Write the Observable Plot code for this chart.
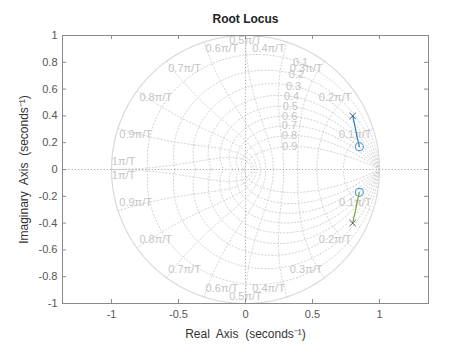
<!DOCTYPE html>
<html><head><meta charset="utf-8">
<script src="https://cdn.jsdelivr.net/npm/d3@7"></script>
<script src="https://cdn.jsdelivr.net/npm/@observablehq/plot@0.6"></script>
<style>body{margin:0;background:#fff}</style>
</head><body><div id="chart"></div>
<script>
const title = "Root Locus";
const xLabel = "Real  Axis  (seconds⁻¹)";
const yLabel = "Imaginary  Axis  (seconds⁻¹)";
const xTicks = [-1, -0.5, 0, 0.5, 1];
const yTicks = [-1, -0.8, -0.6, -0.4, -0.2, 0, 0.2, 0.4, 0.6, 0.8, 1];

// z-grid specification
const zetaValues = [0.1, 0.2, 0.3, 0.4, 0.5, 0.6, 0.7, 0.8, 0.9];
const wnValues = [0.1, 0.2, 0.3, 0.4, 0.5, 0.6, 0.7, 0.8, 0.9, 1];       // × π/T
const wnLabelText = ["0.1π/T","0.2π/T","0.3π/T","0.4π/T","0.5π/T","0.6π/T","0.7π/T","0.8π/T","0.9π/T","1π/T"];
const wnLabelRe = [0.819, 0.669, 0.453, 0.172, 0, -0.176, -0.455, -0.67, -0.82, -0.91];
const wnLabelIm = [0.253, 0.532, 0.75, 0.897, 0.953, 0.897, 0.75, 0.532, 0.253, 0.05];
const zetaLabelWn = 0.35; // where along each ζ curve its label sits (× π/T)

// root locus data
const poleRe = [0.8, 0.8];
const poleIm = [0.4, -0.4];
const zeroRe = [0.85, 0.85];
const zeroIm = [0.17, -0.17];
const branch1Re = [0.8, 0.811, 0.822, 0.832, 0.841, 0.85];
const branch1Im = [0.4, 0.35, 0.3, 0.25, 0.21, 0.17];
const branch2Re = [0.85, 0.841, 0.832, 0.822, 0.811, 0.8];
const branch2Im = [-0.17, -0.21, -0.25, -0.3, -0.35, -0.4];

const N = 120;
const gridPts = [];
zetaValues.forEach((zeta, k) => {
  const m = zeta / Math.sqrt(1 - zeta * zeta);
  for (const sgn of [1, -1]) {
    for (let i = 0; i <= N; i++) {
      const th = Math.PI * i / N;
      const r = Math.exp(-m * th);
      gridPts.push({x: r * Math.cos(th), y: sgn * r * Math.sin(th), g: "z" + k + sgn});
    }
  }
});
wnValues.forEach((wn, k) => {
  const a = wn * Math.PI;
  for (const sgn of [1, -1]) {
    for (let i = 0; i <= N; i++) {
      const zeta = i / N;
      const r = Math.exp(-zeta * a);
      const th = a * Math.sqrt(1 - zeta * zeta);
      gridPts.push({x: r * Math.cos(th), y: sgn * r * Math.sin(th), g: "w" + k + sgn});
    }
  }
});
const circle = d3.range(0, 361, 2).map(t => ({x: Math.cos(t * Math.PI / 180), y: Math.sin(t * Math.PI / 180)}));

const zetaLabels = zetaValues.map(zeta => {
  const a = zetaLabelWn * Math.PI;
  const r = Math.exp(-zeta * a), th = a * Math.sqrt(1 - zeta * zeta);
  return {x: r * Math.cos(th), y: r * Math.sin(th), t: String(zeta)};
});
const wnLabels = [];
wnLabelText.forEach((t, i) => {
  wnLabels.push({x: wnLabelRe[i], y: wnLabelIm[i], t});
  wnLabels.push({x: wnLabelRe[i], y: -wnLabelIm[i], t});
});
const b1 = branch1Re.map((x, i) => ({x, y: branch1Im[i]}));
const b2 = branch2Re.map((x, i) => ({x, y: branch2Im[i]}));
const poles = poleRe.map((x, i) => ({x, y: poleIm[i], c: i === 0 ? "#2a5d8f" : "#3f6070"}));
const zeros = zeroRe.map((x, i) => ({x, y: zeroIm[i]}));

const W = 474, H = 355, mL = 62, mR = 46, mT = 35, mB = 52;
const plotH = H - mT - mB, plotW = W - mL - mR;
const tick = 4;
const gridColor = "#d2d2d2";
const labelColor = "#c4c4c4";
const axisColor = "#8a8a8a";
const font = "'Liberation Sans', Arial, Helvetica, sans-serif";
const fmt = d => String(d);

const chart = Plot.plot({
  width: W, height: H,
  marginLeft: mL, marginRight: mR, marginTop: mT, marginBottom: mB,
  x: {domain: [-1.366, 1.366]},
  y: {domain: [-1, 1]},
  style: {fontFamily: font, fontSize: "11px", color: "#555", background: "#fff"},
  marks: [
    Plot.line(gridPts, {x: "x", y: "y", z: "g", stroke: gridColor, strokeWidth: 1, strokeDasharray: "1.2,2.2"}),
    Plot.line(circle, {x: "x", y: "y", stroke: "#dadada", strokeWidth: 1.2}),
    Plot.ruleX([0], {stroke: "#aaa", strokeDasharray: "1.2,2"}),
    Plot.ruleY([0], {stroke: "#aaa", strokeDasharray: "1.2,2"}),
    Plot.text(wnLabels, {x: "x", y: "y", text: "t", fill: labelColor, fontSize: 11, dy: -1}),
    Plot.text(zetaLabels, {x: "x", y: "y", text: "t", fill: labelColor, fontSize: 11}),
    Plot.line(b1, {x: "x", y: "y", stroke: "#2b7bba", strokeWidth: 1.2, curve: "catmull-rom"}),
    Plot.line(b2, {x: "x", y: "y", stroke: "#7aa83a", strokeWidth: 1.2, curve: "catmull-rom"}),
    Plot.dot(poles, {x: "x", y: "y", symbol: "times", r: 3, stroke: "c", strokeWidth: 1}),
    Plot.dot(zeros, {x: "x", y: "y", symbol: "circle", r: 4, stroke: "#5aa2d6", fill: "none", strokeWidth: 1.2}),
    Plot.frame({stroke: axisColor}),
    Plot.ruleX(xTicks, {x: d => d, insetTop: plotH - tick, stroke: axisColor}),
    Plot.ruleX(xTicks, {x: d => d, insetBottom: plotH - tick, stroke: axisColor}),
    Plot.ruleY(yTicks, {y: d => d, insetRight: plotW - tick, stroke: axisColor}),
    Plot.ruleY(yTicks, {y: d => d, insetLeft: plotW - tick, stroke: axisColor}),
    Plot.axisX(xTicks, {tickSize: 0, tickPadding: 7, label: null, tickFormat: fmt, fill: "#555"}),
    Plot.axisY(yTicks, {tickSize: 0, tickPadding: 5, label: null, tickFormat: fmt, fill: "#555"}),
    Plot.text([title], {frameAnchor: "top", lineAnchor: "middle", textAnchor: "middle", dy: -16, text: d => d, fontWeight: "bold", fontSize: 12, fill: "#222"}),
    Plot.text([xLabel], {frameAnchor: "bottom", lineAnchor: "middle", textAnchor: "middle", dy: 31, text: d => d, fontSize: 12, fill: "#333"}),
    Plot.text([yLabel], {frameAnchor: "left", lineAnchor: "middle", textAnchor: "middle", dx: -38, rotate: -90, text: d => d, fontSize: 12, fill: "#333"})
  ]
});
document.getElementById("chart").append(chart);
</script>
</body></html>
